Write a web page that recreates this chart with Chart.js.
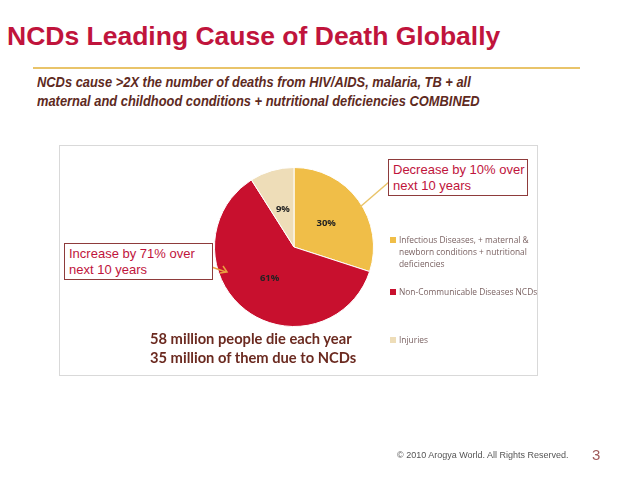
<!DOCTYPE html>
<html>
<head>
<meta charset="utf-8">
<script src="https://cdn.jsdelivr.net/npm/chart.js@4"></script>
<style>
  body { margin: 0; background: #fff; width: 638px; height: 478px; position: relative; overflow: hidden; font-family: "Liberation Sans", Arial, sans-serif; }
  .abs { position: absolute; }
  #title { left: 7px; top: 21px; font-size: 26.5px; font-weight: bold; color: #C0143C; white-space: nowrap; }
  #rule { left: 33px; top: 67px; width: 547px; height: 2px; background: #E9C46A; }
  #sub { left: 37px; top: 73px; font-size: 14px; font-weight: bold; font-style: italic; color: #5E2A1E; line-height: 19px; white-space: nowrap; transform: scaleX(0.92); transform-origin: left top; }
  #box { left: 59px; top: 145px; width: 477px; height: 229px; border: 1px solid #d9d9d9; }
  #pieWrap { left: 214px; top: 167px; width: 160px; height: 160px; }
  .callout { border: 1px solid #8E3B3B; background: #fff; color: #C0143C; font-size: 13px; line-height: 16px; padding: 2px 4px; white-space: nowrap; }
  #dec { left: 388px; top: 159px; width: 130px; height: 31px; }
  #inc { left: 64px; top: 243px; width: 139px; height: 31px; }
  #bottom { left: 150px; top: 329px; font-family: Lato, "Open Sans", sans-serif; font-weight: bold; font-size: 14.7px; line-height: 19px; color: #6B2A20; white-space: nowrap; }
  .leg { left: 390px; font-family: "Open Sans", Lato, sans-serif; font-size: 8.4px; line-height: 12px; color: #7A6262; }
  .leg i { position: absolute; left: 0; top: 3px; width: 6px; height: 6px; }
  .leg span { display: block; margin-left: 9px; }
  #foot { left: 397px; top: 450px; font-size: 9px; color: #555; white-space: nowrap; }
  #page { left: 592px; top: 446px; font-size: 15px; color: #A05A5A; }
</style>
</head>
<body>
<div id="title" class="abs">NCDs Leading Cause of Death Globally</div>
<div id="rule" class="abs"></div>
<div id="sub" class="abs">NCDs cause &gt;2X the number of deaths from HIV/AIDS, malaria, TB + all<br>maternal and childhood conditions + nutritional deficiencies COMBINED</div>
<div id="box" class="abs"></div>
<div id="pieWrap" class="abs"><canvas id="pie"></canvas></div>
<svg class="abs" style="left:0;top:0" width="638" height="478">
  <line x1="389" y1="182" x2="360" y2="207" stroke="#E9C46A" stroke-width="1.5"/>
  <line x1="203" y1="264" x2="226" y2="272" stroke="#E8A040" stroke-width="1.5"/>
  <polyline points="220,273 227,272 223,266" fill="none" stroke="#E8A040" stroke-width="1.5"/>
</svg>
<div id="dec" class="abs callout">Decrease by 10% over<br>next 10 years</div>
<div id="inc" class="abs callout">Increase by 71% over<br>next 10 years</div>
<div id="legend"></div>
<div id="bottom" class="abs">58 million people die each year<br>35 million of them due to NCDs</div>
<div id="foot" class="abs">© 2010 Arogya World. All Rights Reserved.</div>
<div id="page" class="abs">3</div>
<script>
const categories = [
  ['Infectious Diseases, + maternal &', 'newborn conditions + nutritional', 'deficiencies'],
  ['Non-Communicable Diseases NCDs'],
  ['Injuries']
];
const shares = [30, 61, 9];
const sliceColors = ['#F0BE48', '#C8102E', '#EEDDB8'];
const legendTops = [234, 286, 334];

// legend built from the same arrays
const legendDiv = document.getElementById('legend');
categories.forEach((lines, i) => {
  const item = document.createElement('div');
  item.className = 'abs leg';
  item.style.top = legendTops[i] + 'px';
  item.innerHTML = `<i style="background:${sliceColors[i]}"></i>` + lines.map(l => `<span>${l}</span>`).join('');
  legendDiv.appendChild(item);
});

// percent labels inside the slices
const sliceLabels = {
  id: 'sliceLabels',
  afterDatasetsDraw(chart) {
    const ctx = chart.ctx;
    const meta = chart.getDatasetMeta(0);
    ctx.save();
    ctx.font = 'bold 9.5px "Open Sans", sans-serif';
    ctx.fillStyle = '#222';
    ctx.textAlign = 'center';
    ctx.textBaseline = 'middle';
    meta.data.forEach((arc, i) => {
      const p = arc.tooltipPosition();
      ctx.fillText(shares[i] + '%', p.x, p.y);
    });
    ctx.restore();
  }
};

new Chart(document.getElementById('pie'), {
  type: 'pie',
  data: {
    labels: categories.map(l => l.join(' ')),
    datasets: [{
      data: shares,
      backgroundColor: sliceColors,
      borderColor: '#ffffff',
      borderWidth: 1
    }]
  },
  options: {
    responsive: true,
    maintainAspectRatio: false,
    animation: false,
    layout: { padding: 0 },
    plugins: {
      legend: { display: false },
      tooltip: { enabled: false }
    }
  },
  plugins: [sliceLabels]
});
</script>
</body>
</html>
